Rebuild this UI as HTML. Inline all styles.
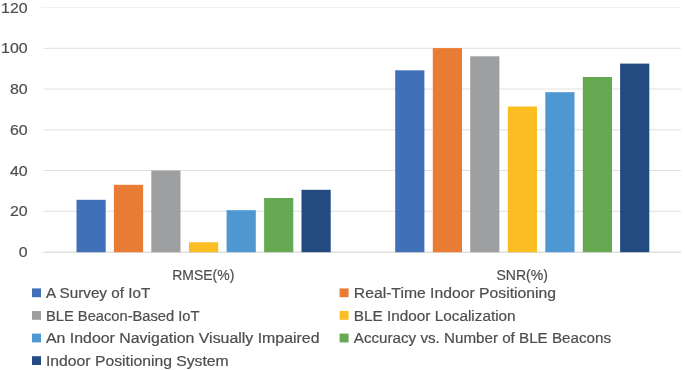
<!DOCTYPE html>
<html><head><meta charset="utf-8"><title>chart</title>
<style>
html,body{margin:0;padding:0;background:#fff;}
body{width:685px;height:370px;overflow:hidden;}
svg{display:block;filter:blur(0.45px);}
text{font-family:"Liberation Sans",sans-serif;fill:#4E4E4E;stroke:#4E4E4E;stroke-width:0.2px;}
</style></head><body>
<svg width="685" height="370" viewBox="0 0 685 370">
<rect width="685" height="370" fill="#ffffff"/>

<line x1="41" y1="7.7" x2="681" y2="7.7" stroke="#EEEEEE" stroke-width="1"/>
<line x1="43.5" y1="48.3" x2="681" y2="48.3" stroke="#E0E0E0" stroke-width="1"/>
<line x1="43.5" y1="89.0" x2="681" y2="89.0" stroke="#E0E0E0" stroke-width="1"/>
<line x1="43.5" y1="129.8" x2="681" y2="129.8" stroke="#E0E0E0" stroke-width="1"/>
<line x1="43.5" y1="170.5" x2="681" y2="170.5" stroke="#E0E0E0" stroke-width="1"/>
<line x1="43.5" y1="211.3" x2="681" y2="211.3" stroke="#E0E0E0" stroke-width="1"/>
<line x1="43.5" y1="252.2" x2="681" y2="252.2" stroke="#D0D0D0" stroke-width="1"/>
<text x="27.6" y="12.8" font-size="14.2" text-anchor="end" textLength="26.5" lengthAdjust="spacingAndGlyphs">120</text>
<text x="27.6" y="53.4" font-size="14.2" text-anchor="end" textLength="26.5" lengthAdjust="spacingAndGlyphs">100</text>
<text x="27.6" y="94.1" font-size="14.2" text-anchor="end" textLength="17.7" lengthAdjust="spacingAndGlyphs">80</text>
<text x="27.6" y="134.9" font-size="14.2" text-anchor="end" textLength="17.7" lengthAdjust="spacingAndGlyphs">60</text>
<text x="27.6" y="175.6" font-size="14.2" text-anchor="end" textLength="17.7" lengthAdjust="spacingAndGlyphs">40</text>
<text x="27.6" y="216.4" font-size="14.2" text-anchor="end" textLength="17.7" lengthAdjust="spacingAndGlyphs">20</text>
<text x="27.6" y="257.3" font-size="14.2" text-anchor="end" textLength="8.8" lengthAdjust="spacingAndGlyphs">0</text>
<rect x="76.5" y="199.8" width="29.2" height="52.4" fill="#4070B8"/>
<rect x="113.9" y="184.8" width="29.2" height="67.4" fill="#E97C35"/>
<rect x="151.3" y="170.5" width="29.2" height="81.7" fill="#9E9FA0"/>
<rect x="189.0" y="242.3" width="29.2" height="9.9" fill="#FABE22"/>
<rect x="226.6" y="210.2" width="29.2" height="42.0" fill="#4E97D1"/>
<rect x="264.1" y="198.0" width="29.2" height="54.2" fill="#66A953"/>
<rect x="301.5" y="189.8" width="29.2" height="62.4" fill="#234B82"/>
<rect x="395.2" y="70.3" width="29.2" height="181.9" fill="#4070B8"/>
<rect x="432.8" y="48.1" width="29.2" height="204.1" fill="#E97C35"/>
<rect x="470.2" y="56.3" width="29.2" height="195.9" fill="#9E9FA0"/>
<rect x="507.8" y="106.5" width="29.2" height="145.7" fill="#FABE22"/>
<rect x="545.3" y="92.2" width="29.2" height="160.0" fill="#4E97D1"/>
<rect x="582.8" y="77.0" width="29.2" height="175.2" fill="#66A953"/>
<rect x="620.1" y="63.6" width="29.2" height="188.6" fill="#234B82"/>
<text x="203.3" y="279.6" font-size="14" text-anchor="middle" textLength="62" lengthAdjust="spacingAndGlyphs">RMSE(%)</text>
<text x="522.2" y="279.6" font-size="14" text-anchor="middle" textLength="51.5" lengthAdjust="spacingAndGlyphs">SNR(%)</text>
<rect x="32" y="288.4" width="9" height="8.8" fill="#4070B8"/>
<text x="46" y="298.1" font-size="14" textLength="104.2" lengthAdjust="spacingAndGlyphs">A Survey of IoT</text>
<rect x="32" y="311.0" width="9" height="8.8" fill="#9E9FA0"/>
<text x="46" y="320.7" font-size="14" textLength="153.5" lengthAdjust="spacingAndGlyphs">BLE Beacon-Based IoT</text>
<rect x="32" y="333.6" width="9" height="8.8" fill="#4E97D1"/>
<text x="46" y="343.3" font-size="14" textLength="273.5" lengthAdjust="spacingAndGlyphs">An Indoor Navigation Visually Impaired</text>
<rect x="32" y="356.2" width="9" height="8.8" fill="#234B82"/>
<text x="46" y="365.9" font-size="14" textLength="182.7" lengthAdjust="spacingAndGlyphs">Indoor Positioning System</text>
<rect x="339.6" y="288.4" width="9" height="8.8" fill="#E97C35"/>
<text x="353.8" y="298.1" font-size="14" textLength="202.2" lengthAdjust="spacingAndGlyphs">Real-Time Indoor Positioning</text>
<rect x="339.6" y="311.0" width="9" height="8.8" fill="#FABE22"/>
<text x="353.8" y="320.7" font-size="14" textLength="161.8" lengthAdjust="spacingAndGlyphs">BLE Indoor Localization</text>
<rect x="339.6" y="333.6" width="9" height="8.8" fill="#66A953"/>
<text x="353.8" y="343.3" font-size="14" textLength="257.2" lengthAdjust="spacingAndGlyphs">Accuracy vs. Number of BLE Beacons</text>
</svg></body></html>
